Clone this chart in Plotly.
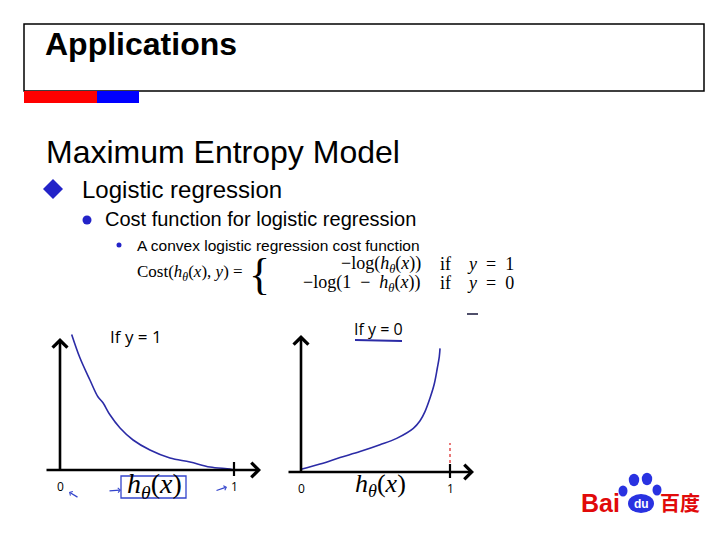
import plotly.graph_objects as go

W, H = 728, 546

# values (h = h_theta(x), cost in arbitrary units)
left_h = [0.067, 0.115, 0.172, 0.218, 0.247, 0.287, 0.345, 0.42, 0.517, 0.632, 0.747, 0.862, 0.977, 1.0]
left_cost = [3.39, 2.80, 2.25, 1.83, 1.68, 1.38, 1.05, 0.75, 0.50, 0.30, 0.20, 0.075, 0.025, 0.0]

right_h = [0.0, 0.128, 0.262, 0.396, 0.530, 0.642, 0.754, 0.799, 0.832, 0.866, 0.893, 0.915, 0.928, 0.933]
right_cost = [0.07, 0.20, 0.36, 0.51, 0.68, 0.84, 1.09, 1.28, 1.51, 1.85, 2.18, 2.60, 2.88, 3.09]

tick_values = [0, 1]
tick_labels = ["0", "1"]

panel_titles = ["If y = 1", "If y = 0"]
slide_title = "Applications"
heading = "Maximum Entropy Model"
bullet_1 = "Logistic regression"
bullet_2 = "Cost function for logistic regression"
bullet_3 = "A convex logistic regression cost function"

BLUE_INK = "#2b2ba6"
PEN_BLUE = "#3344cc"
BULLET_BLUE = "#2323c8"
BAIDU_RED = "#e10a0a"
BAIDU_BLUE = "#2932e1"

# pixel anchors of each panel (origin, x=1 position, plot box)
PANELS = {
    "left": dict(x0=60, x1=234, y0=470, left=35, right=268, top=320, bottom=505),
    "right": dict(x0=301, x1=450, y0=472, left=282, right=480, top=320, bottom=505),
}
PX_PER_COST = 40

THIN = "\u2009"
EN = "\u2002"
EM = "\u2003"


def px(x):
    return x / W


def py(y):
    return 1 - y / H


def dx(p, xpix):
    return (xpix - p["x0"]) / (p["x1"] - p["x0"])


def dy(p, ypix):
    return (p["y0"] - ypix) / PX_PER_COST


def label(x, y, text, font, xanchor="center", yanchor="middle"):
    return dict(x=px(x), y=py(y), xref="paper", yref="paper", text=text, showarrow=False,
                xanchor=xanchor, yanchor=yanchor, font=font)


def pen_arrow(tip, tail, color, width=1.3):
    return dict(x=px(tip[0]), y=py(tip[1]), ax=tail[0] - tip[0], ay=tail[1] - tip[1],
                xref="paper", yref="paper", axref="pixel", ayref="pixel", text="",
                showarrow=True, arrowhead=4, arrowsize=0.7, arrowwidth=width, arrowcolor=color)


fig = go.Figure()

fig.add_trace(go.Scatter(x=left_h, y=left_cost, mode="lines", xaxis="x", yaxis="y",
                         line=dict(color=BLUE_INK, width=1.6, shape="spline"), hoverinfo="skip"))
fig.add_trace(go.Scatter(x=right_h, y=right_cost, mode="lines", xaxis="x2", yaxis="y2",
                         line=dict(color=BLUE_INK, width=1.6, shape="spline"), hoverinfo="skip"))

layout_axes = {}
for i, key in enumerate(["left", "right"]):
    p = PANELS[key]
    sfx = "" if i == 0 else "2"
    layout_axes["xaxis" + sfx] = dict(domain=[px(p["left"]), px(p["right"])],
                                      range=[dx(p, p["left"]), dx(p, p["right"])],
                                      visible=False, fixedrange=True, anchor="y" + sfx)
    layout_axes["yaxis" + sfx] = dict(domain=[py(p["bottom"]), py(p["top"])],
                                      range=[dy(p, p["bottom"]), dy(p, p["top"])],
                                      visible=False, fixedrange=True, anchor="x" + sfx)

annotations = []
shapes = []

# axes with arrow heads, ticks at 1 and tick labels
arrow_ends = {"left": dict(vtop=338, hleft=45, hright=261), "right": dict(vtop=335, hleft=287, hright=474)}
for i, key in enumerate(["left", "right"]):
    p = PANELS[key]
    a = arrow_ends[key]
    xr, yr = ("x", "y") if i == 0 else ("x2", "y2")
    annotations.append(dict(x=0, y=dy(p, a["vtop"]), ax=0, ay=dy(p, p["y0"] + 1), xref=xr, yref=yr,
                            axref=xr, ayref=yr, text="", showarrow=True, arrowhead=4,
                            arrowsize=1.1, arrowwidth=2.6, arrowcolor="black"))
    annotations.append(dict(x=dx(p, a["hright"]), y=0, ax=dx(p, a["hleft"]), ay=0, xref=xr, yref=yr,
                            axref=xr, ayref=yr, text="", showarrow=True, arrowhead=4,
                            arrowsize=1.1, arrowwidth=2.6, arrowcolor="black"))
    shapes.append(dict(type="line", xref=xr, yref=yr, x0=1, x1=1, y0=dy(p, p["y0"] - 8), y1=dy(p, p["y0"] + 6),
                       line=dict(color="black", width=2.2)))
    for v, lab in zip(tick_values, tick_labels):
        annotations.append(dict(x=v, y=0, xref=xr, yref=yr, text=lab, showarrow=False, yshift=-16,
                                xanchor="center", yanchor="middle",
                                font=dict(family="Open Sans", size=12, color="black")))

# panel titles
annotations.append(label(136, 336, panel_titles[0], dict(family="Open Sans", size=17, color="black")))
annotations.append(label(378, 329, panel_titles[1], dict(family="Open Sans", size=16, color="black")))
shapes.append(dict(type="line", xref="paper", yref="paper", x0=px(355), x1=px(402), y0=py(340), y1=py(341),
                   line=dict(color=BLUE_INK, width=1.8)))

# h_theta(x) axis titles
hx = "<i>h</i><sub><i>θ</i></sub>(<i>x</i>)"
annotations.append(label(154, 485, hx, dict(family="Liberation Serif", size=28, color="black")))
annotations.append(label(380, 485, hx, dict(family="Liberation Serif", size=26, color="black")))

# hand-drawn pen marks on the left panel
shapes.append(dict(type="rect", xref="paper", yref="paper", x0=px(121), x1=px(186), y0=py(498), y1=py(476),
                   line=dict(color=PEN_BLUE, width=1.3)))
for tip, tail in [((121, 490), (108, 491)), ((69, 492), (79, 498)), ((227, 487), (215, 491))]:
    annotations.append(pen_arrow(tip, tail, PEN_BLUE))

# red dotted mark on the right panel near h = 1
shapes.append(dict(type="line", xref="x2", yref="y2", x0=1, x1=1, y0=dy(PANELS["right"], 463),
                   y1=dy(PANELS["right"], 443), line=dict(color="#e04040", width=1.4, dash="dot")))

# slide header
shapes.append(dict(type="rect", xref="paper", yref="paper", x0=px(24), x1=px(704), y0=py(91), y1=py(24),
                   line=dict(color="black", width=1.5)))
shapes.append(dict(type="rect", xref="paper", yref="paper", x0=px(24), x1=px(97), y0=py(103), y1=py(91),
                   line=dict(width=0), fillcolor="#ff0000"))
shapes.append(dict(type="rect", xref="paper", yref="paper", x0=px(97), x1=px(139), y0=py(103), y1=py(91),
                   line=dict(width=0), fillcolor="#0000ff"))
annotations.append(label(43, 44, "<b>" + slide_title + "</b>",
                         dict(family="Liberation Sans", size=32, color="black"), xanchor="left"))

# heading and bullets
annotations.append(label(44, 152, heading, dict(family="Liberation Sans", size=32, color="black"), "left"))
annotations.append(label(80, 189, bullet_1, dict(family="Liberation Sans", size=24, color="black"), "left"))
annotations.append(label(103, 219, bullet_2, dict(family="Liberation Sans", size=20, color="black"), "left"))
annotations.append(label(135, 246, bullet_3, dict(family="Liberation Sans", size=15.5, color="black"), "left"))
cx, cy, r = 53, 189, 10
shapes.append(dict(type="path", xref="paper", yref="paper",
                   path=f"M {px(cx - r)} {py(cy)} L {px(cx)} {py(cy - r)} L {px(cx + r)} {py(cy)} L {px(cx)} {py(cy + r)} Z",
                   line=dict(width=0), fillcolor=BULLET_BLUE))
for bx, by, br in [(87, 220, 4.5), (119, 245, 2.5)]:
    shapes.append(dict(type="circle", xref="paper", yref="paper", x0=px(bx - br), x1=px(bx + br),
                       y0=py(by + br), y1=py(by - br), line=dict(width=0), fillcolor=BULLET_BLUE))

# cost formula
serif = dict(family="Liberation Serif", size=18, color="black")
annotations += [
    label(245, 273, "Cost(<i>h</i><sub><i>θ</i></sub>(<i>x</i>), <i>y</i>) =",
          dict(family="Liberation Serif", size=17, color="black"), "right"),
    label(259, 274, "{", dict(family="Liberation Serif", size=44, color="black")),
    label(423, 264, "−log(<i>h</i><sub><i>θ</i></sub>(<i>x</i>))", serif, "right"),
    label(423, 283, "−log(1" + EN + "−" + EN + "<i>h</i><sub><i>θ</i></sub>(<i>x</i>))", serif, "right"),
    label(438, 264, "if" + EM + "<i>y</i>" + EN + "=" + EN + "1", serif, "left"),
    label(438, 283, "if" + EM + "<i>y</i>" + EN + "=" + EN + "0", serif, "left"),
]
shapes.append(dict(type="line", xref="paper", yref="paper", x0=px(467), x1=px(478), y0=py(314), y1=py(314),
                   line=dict(color="#222244", width=1.6)))

# Baidu logo
annotations.append(label(579, 503, "<b>Bai</b>", dict(family="Liberation Sans", size=25, color=BAIDU_RED),
                         "left"))
for tx, ty, tr in [(623, 491, 4.5), (634, 480, 5.2), (647, 479, 5.2), (657, 490, 4.5)]:
    shapes.append(dict(type="circle", xref="paper", yref="paper", x0=px(tx - tr), x1=px(tx + tr),
                       y0=py(ty + tr + 1), y1=py(ty - tr - 1), line=dict(width=0), fillcolor=BAIDU_BLUE))
shapes.append(dict(type="circle", xref="paper", yref="paper", x0=px(628), x1=px(654), y0=py(513), y1=py(494),
                   line=dict(width=0), fillcolor=BAIDU_BLUE))
annotations.append(label(641, 504, "<b>du</b>", dict(family="Liberation Sans", size=12, color="white")))
annotations.append(label(658, 503, "<b>百度</b>", dict(family="Noto Sans CJK SC", size=20, color=BAIDU_RED),
                         "left"))

fig.update_layout(
    width=W, height=H,
    margin=dict(l=0, r=0, t=0, b=0),
    paper_bgcolor="white", plot_bgcolor="white",
    showlegend=False,
    annotations=annotations,
    shapes=shapes,
    **layout_axes,
)

fig.write_html("out.html", config={"displayModeBar": False},
               post_script="document.body.style.margin = '0px';")
